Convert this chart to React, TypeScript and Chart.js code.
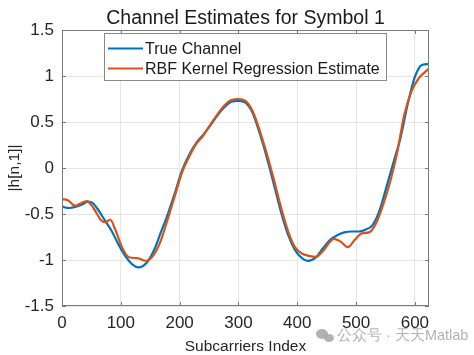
import React, { useEffect, useRef } from 'react';
import { Chart, registerables } from 'chart.js';

Chart.register(...registerables);

const trueIdx = [0, 12, 24, 36, 44, 52, 60, 72, 84, 96, 108, 120, 130, 144, 156, 168, 180, 192, 204, 216, 228, 240, 252, 264, 276, 288, 300, 312, 324, 336, 348, 360, 372, 384, 396, 408, 418, 432, 444, 456, 468, 480, 492, 504, 516, 528, 540, 552, 564, 576, 588, 600, 612, 624];
const trueVals = [-0.42, -0.435, -0.42, -0.39, -0.365, -0.38, -0.44, -0.56, -0.68, -0.83, -0.96, -1.05, -1.08, -1.03, -0.9, -0.7, -0.5, -0.27, -0.03, 0.14, 0.27, 0.36, 0.46, 0.57, 0.66, 0.72, 0.73, 0.71, 0.6, 0.38, 0.12, -0.17, -0.47, -0.72, -0.89, -0.98, -1.01, -0.97, -0.87, -0.78, -0.73, -0.7, -0.69, -0.69, -0.67, -0.62, -0.46, -0.2, 0.07, 0.34, 0.7, 0.99, 1.12, 1.13];

const rbfIdx = [0, 10, 22, 30, 42, 54, 66, 74, 82, 90, 102, 114, 128, 143, 156, 168, 180, 192, 204, 216, 228, 240, 252, 264, 276, 288, 300, 312, 324, 336, 348, 360, 372, 384, 396, 408, 420, 432, 444, 456, 462, 474, 486, 498, 510, 522, 534, 546, 558, 570, 582, 594, 606, 624];
const rbfVals = [-0.34, -0.35, -0.41, -0.39, -0.36, -0.44, -0.565, -0.59, -0.56, -0.66, -0.86, -0.97, -0.98, -1.01, -0.945, -0.79, -0.55, -0.3, -0.05, 0.12, 0.26, 0.35, 0.47, 0.58, 0.68, 0.74, 0.75, 0.73, 0.62, 0.41, 0.16, -0.12, -0.42, -0.68, -0.86, -0.93, -0.955, -0.965, -0.9, -0.8, -0.77, -0.8, -0.86, -0.78, -0.71, -0.7, -0.6, -0.4, -0.15, 0.17, 0.58, 0.83, 0.97, 1.08];

const xTickValues = [0, 100, 200, 300, 400, 500, 600];
const yTickValues = [-1.5, -1, -0.5, 0, 0.5, 1, 1.5];

const titleText = 'Channel Estimates for Symbol 1';
const xLabel = 'Subcarriers Index';
const yLabel = '|h[n,1]|';
const seriesNames = ['True Channel', 'RBF Kernel Regression Estimate'];
const watermarkText = '公众号 · 天天Matlab';

const BLUE = '#0072BD';
const ORANGE = '#D95319';
const FONT = '"Liberation Sans", Arial, Helvetica, sans-serif';

export default function App() {
  const canvasRef = useRef<HTMLCanvasElement | null>(null);

  useEffect(() => {
    const canvas = canvasRef.current;
    if (!canvas) return;

    const decor = {
      id: 'decor',
      afterDraw(chart: any) {
        const ctx = chart.ctx as CanvasRenderingContext2D;
        const a = chart.chartArea;
        const xs = chart.scales.x;
        const ys = chart.scales.y;
        ctx.save();
        // box
        ctx.strokeStyle = '#7a7a7a';
        ctx.lineWidth = 1;
        ctx.beginPath();
        ctx.rect(a.left + 0.5, a.top + 0.5, a.right - a.left - 1, a.bottom - a.top - 1);
        ctx.stroke();
        // inner ticks
        ctx.beginPath();
        for (const v of xTickValues) {
          const px = Math.round(xs.getPixelForValue(v)) + 0.5;
          ctx.moveTo(px, a.bottom);
          ctx.lineTo(px, a.bottom - 4);
          ctx.moveTo(px, a.top);
          ctx.lineTo(px, a.top + 4);
        }
        for (const v of yTickValues) {
          const py = Math.round(ys.getPixelForValue(v)) + 0.5;
          ctx.moveTo(a.left, py);
          ctx.lineTo(a.left + 4, py);
          ctx.moveTo(a.right, py);
          ctx.lineTo(a.right - 4, py);
        }
        ctx.stroke();

        // title
        ctx.fillStyle = '#1a1a1a';
        ctx.font = `19.5px ${FONT}`;
        ctx.textAlign = 'center';
        ctx.textBaseline = 'alphabetic';
        ctx.fillText(titleText, (a.left + a.right) / 2, 24);

        // x label
        ctx.fillStyle = '#262626';
        ctx.font = `15.5px ${FONT}`;
        ctx.fillText(xLabel, (a.left + a.right) / 2, 351);

        // y label
        ctx.save();
        ctx.translate(19, (a.top + a.bottom) / 2);
        ctx.rotate(-Math.PI / 2);
        ctx.textAlign = 'center';
        ctx.fillText(yLabel, 0, 0);
        ctx.restore();

        // legend
        const lx = 104, ly = 33, lw = 282, lh = 47;
        ctx.fillStyle = '#ffffff';
        ctx.fillRect(lx, ly, lw, lh);
        ctx.strokeStyle = '#8a8a8a';
        ctx.lineWidth = 1;
        ctx.strokeRect(lx + 0.5, ly + 0.5, lw, lh);
        const rows = [48.5, 68.5];
        const cols = [BLUE, ORANGE];
        ctx.font = `16px ${FONT}`;
        ctx.textAlign = 'left';
        ctx.textBaseline = 'middle';
        for (let i = 0; i < 2; i++) {
          ctx.strokeStyle = cols[i];
          ctx.lineWidth = 2.2;
          ctx.beginPath();
          ctx.moveTo(108, rows[i]);
          ctx.lineTo(143, rows[i]);
          ctx.stroke();
          ctx.fillStyle = '#1a1a1a';
          ctx.fillText(seriesNames[i], 145, rows[i] + 1);
        }

        // watermark
        ctx.fillStyle = 'rgba(170,170,170,0.9)';
        ctx.beginPath();
        ctx.ellipse(322, 334, 6, 5, 0, 0, Math.PI * 2);
        ctx.fill();
        ctx.beginPath();
        ctx.ellipse(329, 338, 5, 4, 0, 0, Math.PI * 2);
        ctx.fill();
        ctx.font = `14.5px ${FONT}`;
        ctx.textAlign = 'left';
        ctx.textBaseline = 'middle';
        ctx.fillText(watermarkText, 337, 336);
        ctx.restore();
      },
    };

    const chart = new Chart(canvas, {
      type: 'line',
      data: {
        datasets: [
          {
            label: seriesNames[0],
            data: trueIdx.map((x, i) => ({ x, y: trueVals[i] })),
            borderColor: BLUE,
            borderWidth: 2.2,
            pointRadius: 0,
            cubicInterpolationMode: 'monotone',
            order: 2,
          },
          {
            label: seriesNames[1],
            data: rbfIdx.map((x, i) => ({ x, y: rbfVals[i] })),
            borderColor: ORANGE,
            borderWidth: 2.2,
            pointRadius: 0,
            cubicInterpolationMode: 'monotone',
            order: 1,
          },
        ],
      },
      options: {
        responsive: false,
        animation: false,
        devicePixelRatio: 1,
        layout: { padding: { top: 30, right: 45, left: 0, bottom: 0 } },
        plugins: {
          legend: { display: false },
          title: { display: false },
          tooltip: { enabled: false },
        },
        scales: {
          x: {
            type: 'linear',
            min: 0,
            max: 624,
            afterBuildTicks: (s: any) => {
              s.ticks = xTickValues.map((v) => ({ value: v }));
            },
            afterFit: (s: any) => {
              s.height = 49;
            },
            grid: { color: '#e6e6e6', drawTicks: false, lineWidth: 1 },
            border: { display: false },
            ticks: {
              padding: 7,
              color: '#262626',
              font: { family: FONT, size: 17 },
              maxRotation: 0,
              autoSkip: false,
            },
          },
          y: {
            type: 'linear',
            min: -1.5,
            max: 1.5,
            afterBuildTicks: (s: any) => {
              s.ticks = yTickValues.map((v) => ({ value: v }));
            },
            afterFit: (s: any) => {
              s.width = 62;
            },
            grid: { color: '#e6e6e6', drawTicks: false, lineWidth: 1 },
            border: { display: false },
            ticks: {
              padding: 8,
              color: '#262626',
              font: { family: FONT, size: 17 },
              autoSkip: false,
              callback: (v: any) => String(v),
            },
          },
        },
      },
      plugins: [decor],
    });

    return () => chart.destroy();
  }, []);

  return (
    <div style={{ position: 'absolute', left: 0, top: 0, width: 474, height: 355, background: '#fff' }}>
      <canvas ref={canvasRef} width={474} height={355} style={{ width: 474, height: 355 }} />
    </div>
  );
}
